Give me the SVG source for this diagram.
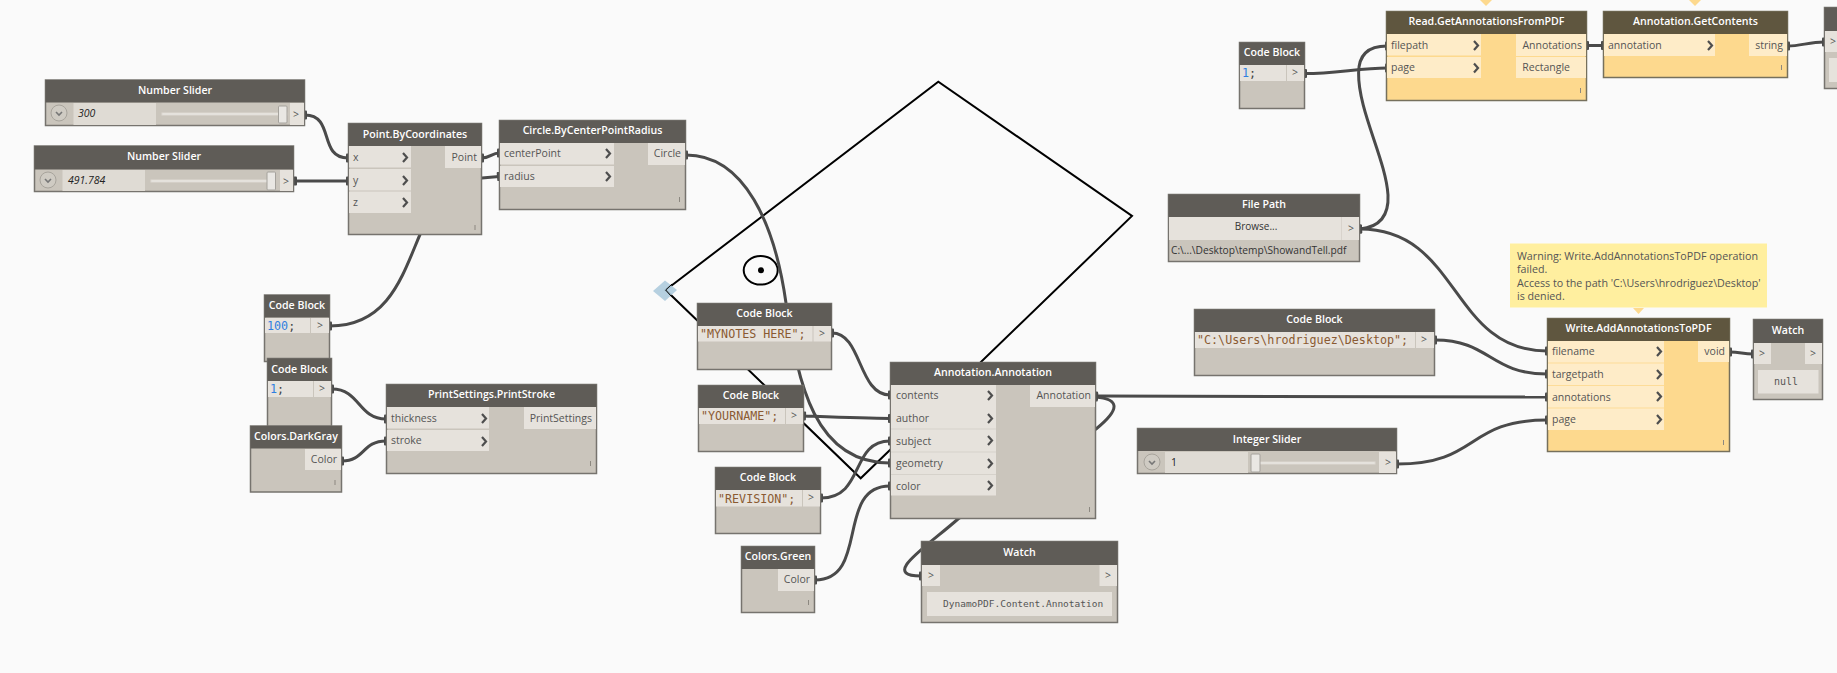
<svg xmlns="http://www.w3.org/2000/svg" width="1837" height="673" viewBox="0 0 1837 673">
<style>
text{font-family:"Open Sans","Noto Sans","Liberation Sans",sans-serif;font-size:10.5px;fill:#555}
.b{fill:#cac5bc;stroke:#76736e;stroke-width:1.5}
.h{fill:#5f5c57}
.hw{fill:#5f563f}
.w .b{fill:#fdd98e;stroke:#76705c}
.r{fill:#e6e2dc}
.w .r{fill:#feecc8}
.t{fill:#fff;font-size:10.6px;font-weight:600;text-anchor:middle;transform:translateY(-1px)}
.c{font-family:"DejaVu Sans Mono","Liberation Mono",monospace;font-size:11.7px;fill:#8a5a32}
.n{fill:#2f7fe0}
.a{fill:none;stroke:#777;stroke-width:1.6}
.ch{fill:none;stroke:#4e4e4e;stroke-width:2.2}
.grip{fill:#8c8880}
.wire{fill:none;stroke:#4a4a4a;stroke-width:3;marker-start:url(#nub);marker-end:url(#nub)}
.geo{fill:none;stroke:#000;stroke-width:2}
.val{fill:#dfdbd4}
.track{fill:#eceae6;stroke:#ddd9d2}
.thumb{fill:#e9e7e3;stroke:#a5a29c}
.btn{fill:#cfcbc3;stroke:#a8a49c}
.tip{fill:#fdd98e}
.i{font-style:italic;fill:#222;font-size:10.5px}
.rt{text-anchor:end}
.warn{fill:#555;font-size:10.7px}
</style>
<defs>
<marker id="nub" markerUnits="userSpaceOnUse" markerWidth="6" markerHeight="10" refX="3" refY="5" orient="auto-start-reverse"><rect x="1" y="0.500" width="4" height="9" rx="1" fill="#4a4a4a"/></marker>
</defs>
<rect width="1837" height="673" fill="#fafafa"/>
<g id="geometry">
<path class="geo" d="M665.7,290L938.3,81.7L1132,216L860.7,478.3Z"/>
<ellipse class="geo" cx="760.7" cy="270.3" rx="17" ry="14.3"/>
<circle cx="761" cy="270.3" r="3" fill="#000"/>
<path d="M665,280.5L677,290L665,301L653,291Z" fill="#aecbdd" opacity="0.9"/>
<path class="geo" style="stroke-width:1" d="M672,284L665.7,290L671,296"/>
</g>
<g id="connectors">
<path class="wire" d="M305,115C335,115 318,158 348,158"/>
<path class="wire" d="M295,181C310,181 330,181 348,181"/>
<path class="wire" d="M482,158C490,158 492,153 499,153"/>
<path class="wire" d="M330,326C430,326 400,178 482,178L499,176.500"/>
<path class="wire" d="M686,155C745,155 775,225 786,303C798,385 815,463 890,463"/>
<path class="wire" d="M832,333C862,333 858,395 890,395"/>
<path class="wire" d="M804,416C830,417 865,418.500 890,418.500"/>
<path class="wire" d="M821,498C865,498 850,441 890,441"/>
<path class="wire" d="M815,580C870,580 835,486 890,486"/>
<path class="wire" d="M1096,396C1250,397 1400,397 1547,397"/>
<path class="wire" d="M1096,397C1118,399 1122,408 1096,429L958,519C925,548 880,576 921,576"/>
<path class="wire" d="M1435,340C1490,340 1490,374 1547,374"/>
<path class="wire" d="M1360,229C1460,229 1450,351 1547,351"/>
<path class="wire" d="M1360,229C1380,227 1389,215 1388,195C1386,160 1358,110 1358.600,73C1358.600,55 1368,46 1387,46"/>
<path class="wire" d="M1305,73.500C1335,73.500 1360,68 1387,68"/>
<path class="wire" d="M1587,45.500L1603,45.500"/>
<path class="wire" d="M1788,46C1800,46 1810,42 1824,42"/>
<path class="wire" d="M1397,464C1480,464 1465,420 1547,420"/>
<path class="wire" d="M1730,352C1740,352 1743,354 1753,354"/>
<path class="wire" d="M332,389C360,389 358,419 386,419"/>
<path class="wire" d="M342,461C365,461 362,441 386,441"/>
</g>

<g id="slider1">
<rect class="b" x="45.500" y="80" width="259" height="45.500"/><rect class="h" x="45.500" y="80" width="259" height="22.500"/>
<text class="t" x="175" y="95">Number Slider</text>
<circle class="btn" cx="59" cy="113" r="8"/><path class="a" d="M56,112L59,115L62,112"/>
<rect class="val" x="73.500" y="103" width="82.500" height="22"/><text class="i" x="78" y="117">300</text>
<rect class="track" x="162" y="113" width="125" height="2"/><rect class="thumb" x="278.500" y="106" width="8.500" height="17" rx="1"/>
<rect class="r" x="290" y="103" width="14" height="22"/><text x="293" y="118">&gt;</text>
</g>
<g id="slider2">
<rect class="b" x="34.500" y="146" width="259" height="45.500"/><rect class="h" x="34.500" y="146" width="259" height="23.500"/>
<text class="t" x="164" y="161">Number Slider</text>
<circle class="btn" cx="48" cy="180" r="8"/><path class="a" d="M45,179L48,182L51,179"/>
<rect class="val" x="62.500" y="170" width="82.500" height="21"/><text class="i" x="68" y="184">491.784</text>
<rect class="track" x="151" y="180" width="124" height="2"/><rect class="thumb" x="267" y="172" width="8.500" height="18" rx="1"/>
<rect class="r" x="280" y="170" width="13" height="21"/><text x="283" y="185">&gt;</text>
</g>
<g id="point">
<rect class="b" x="348.500" y="123.500" width="133" height="111"/><rect class="h" x="348.500" y="123.500" width="133" height="22.500"/>
<text class="t" x="415" y="138.500">Point.ByCoordinates</text>
<rect class="r" x="349" y="146" width="62" height="21.500"/><rect class="r" x="349" y="169" width="62" height="21.500"/><rect class="r" x="349" y="191.500" width="62" height="21.500"/>
<text x="353" y="161">x</text><text x="353" y="184">y</text><text x="353" y="206">z</text>
<path class="ch" d="M403,153L407,157.500L403,162M403,176L407,180.500L403,185M403,198L407,202.500L403,207"/>
<rect class="r" x="445" y="146" width="36" height="22"/><text class="rt" x="477" y="161">Point</text>
<rect class="grip" x="474.500" y="225" width="1" height="5"/>
</g>
<g id="circle">
<rect class="b" x="499.500" y="120.500" width="186" height="89"/><rect class="h" x="499.500" y="120.500" width="186" height="22.500"/>
<text class="t" x="592.500" y="135">Circle.ByCenterPointRadius</text>
<rect class="r" x="500" y="143" width="114" height="21.500"/><rect class="r" x="500" y="166" width="114" height="21"/>
<text x="504" y="157">centerPoint</text><text x="504" y="180">radius</text>
<path class="ch" d="M606,149L610,153.500L606,158M606,172L610,176.500L606,181"/>
<rect class="r" x="648" y="143" width="37" height="22"/><text class="rt" x="681" y="157">Circle</text>
<rect class="grip" x="679" y="197" width="1" height="5"/>
</g>
<g id="cb100">
<rect class="b" x="264.500" y="295" width="65" height="66.500"/><rect class="h" x="264.500" y="295" width="65" height="22.500"/>
<text class="t" x="297" y="310">Code Block</text>
<rect class="r" x="265" y="318" width="45" height="15"/><rect class="r" x="311" y="318" width="18" height="15"/>
<text class="c n" x="267" y="330">100<tspan fill="#444">;</tspan></text><text x="317" y="329">&gt;</text>
</g>
<g id="cb1">
<rect class="b" x="267.500" y="358.500" width="64" height="68"/><rect class="h" x="267.500" y="358.500" width="64" height="22.500"/>
<text class="t" x="299.500" y="373.500">Code Block</text>
<rect class="r" x="268" y="381" width="45" height="16"/><rect class="r" x="314" y="381" width="17" height="16"/>
<text class="c n" x="270" y="393">1<tspan fill="#444">;</tspan></text><text x="319" y="392">&gt;</text>
</g>
<g id="darkgray">
<rect class="b" x="250.500" y="426" width="91" height="66"/><rect class="h" x="250.500" y="426" width="91" height="22.500"/>
<text class="t" x="296" y="440.500">Colors.DarkGray</text>
<rect class="r" x="305" y="449" width="36" height="21"/><text class="rt" x="337" y="463">Color</text>
<rect class="grip" x="334.500" y="480" width="1" height="5"/>
</g>
<g id="printstroke">
<rect class="b" x="386.500" y="384.500" width="210" height="89"/><rect class="h" x="386.500" y="384.500" width="210" height="22.500"/>
<text class="t" x="491.500" y="399">PrintSettings.PrintStroke</text>
<rect class="r" x="387" y="407" width="102" height="21.500"/><rect class="r" x="387" y="430" width="102" height="21"/>
<text x="391" y="422">thickness</text><text x="391" y="444">stroke</text>
<path class="ch" d="M482,414L486,418.500L482,423M482,437L486,441.500L482,446"/>
<rect class="r" x="524" y="407" width="72" height="22"/><text class="rt" x="592" y="422">PrintSettings</text>
<rect class="grip" x="590" y="461" width="1" height="5"/>
</g>
<g id="cbnotes">
<rect class="b" x="697.500" y="303.500" width="134" height="66"/><rect class="h" x="697.500" y="303.500" width="134" height="22.500"/>
<text class="t" x="764.500" y="318">Code Block</text>
<rect class="r" x="698" y="326" width="114.500" height="15.500"/><rect class="r" x="813.500" y="326" width="17.500" height="15.500"/>
<text class="c" x="700" y="338">"MYNOTES HERE";</text><text x="819" y="337">&gt;</text>
</g>
<g id="cbname">
<rect class="b" x="698.500" y="385.500" width="105" height="66"/><rect class="h" x="698.500" y="385.500" width="105" height="22.500"/>
<text class="t" x="751" y="400">Code Block</text>
<rect class="r" x="699" y="408" width="86" height="16"/><rect class="r" x="786" y="408" width="17" height="16"/>
<text class="c" x="701" y="420">"YOURNAME";</text><text x="791" y="419">&gt;</text>
</g>
<g id="cbrev">
<rect class="b" x="715.500" y="467.500" width="105" height="66"/><rect class="h" x="715.500" y="467.500" width="105" height="22.500"/>
<text class="t" x="768" y="482">Code Block</text>
<rect class="r" x="716" y="490" width="86" height="16.500"/><rect class="r" x="803" y="490" width="17" height="16.500"/>
<text class="c" x="718" y="503">"REVISION";</text><text x="808" y="501">&gt;</text>
</g>
<g id="green">
<rect class="b" x="741.500" y="546.500" width="73" height="66"/><rect class="h" x="741.500" y="546.500" width="73" height="22.500"/>
<text class="t" x="778" y="561">Colors.Green</text>
<rect class="r" x="778" y="569" width="36" height="22"/><text class="rt" x="810" y="583">Color</text>
<rect class="grip" x="808" y="600" width="1" height="5"/>
</g>
<g id="annotation">
<rect class="b" x="890.500" y="362.500" width="205" height="156"/><rect class="h" x="890.500" y="362.500" width="205" height="22.500"/>
<text class="t" x="993" y="377">Annotation.Annotation</text>
<rect class="r" x="891" y="385" width="105" height="110.500"/>
<path d="M891,429H996M891,452H996M891,474.500H996" stroke="#d6d2cb" stroke-width="1"/>
<text x="896" y="399">contents</text><text x="896" y="422">author</text><text x="896" y="444.500">subject</text><text x="896" y="467">geometry</text><text x="896" y="489.500">color</text>
<path class="ch" d="M988,391L992,395.500L988,400M988,414L992,418.500L988,423M988,436L992,440.500L988,445M988,459L992,463.500L988,468M988,481L992,485.500L988,490"/>
<rect class="r" x="1030" y="385" width="65" height="22"/><text class="rt" x="1091" y="399">Annotation</text>
<rect class="grip" x="1089" y="507" width="1" height="5"/>
</g>
<g id="watch1">
<rect class="b" x="921.500" y="541.500" width="196" height="81"/><rect class="h" x="921.500" y="541.500" width="196" height="23.500"/>
<text class="t" x="1019.500" y="557">Watch</text>
<rect class="r" x="922" y="565" width="18" height="21"/><rect class="r" x="1099.500" y="565" width="17.500" height="21"/>
<text x="928" y="579">&gt;</text><text x="1105" y="579">&gt;</text>
<rect class="r" x="927" y="592" width="185" height="24"/>
<text class="c" style="font-size:9.5px;fill:#555" x="943" y="607">DynamoPDF.Content.Annotation</text>
</g>
<g id="intslider">
<rect class="b" x="1137.500" y="428.500" width="259" height="45"/><rect class="h" x="1137.500" y="428.500" width="259" height="22.500"/>
<text class="t" x="1267" y="443.500">Integer Slider</text>
<circle class="btn" cx="1152" cy="462" r="8"/><path class="a" d="M1149,461L1152,464L1155,461"/>
<rect class="val" x="1165" y="452" width="83" height="21"/><text class="i" style="font-style:normal" x="1171" y="466">1</text>
<rect class="track" x="1256" y="462" width="119" height="2"/><rect class="thumb" x="1251" y="454" width="9" height="18" rx="1"/>
<rect class="r" x="1379" y="452" width="17" height="21"/><text x="1385" y="466">&gt;</text>
</g>
<g id="read" class="w">
<path class="tip" d="M1480,0H1492L1486,6Z"/>
<rect class="b" x="1386.500" y="11.500" width="200" height="89"/><rect class="hw" x="1386.500" y="11.500" width="200" height="22.500"/>
<text class="t" x="1486.500" y="26">Read.GetAnnotationsFromPDF</text>
<rect class="r" x="1387" y="34" width="94" height="21.500"/><rect class="r" x="1387" y="57" width="94" height="21"/>
<text x="1391" y="49">filepath</text><text x="1391" y="71">page</text>
<path class="ch" d="M1474,41L1478,45.500L1474,50M1474,63.500L1478,68L1474,72.500"/>
<rect class="r" x="1516" y="34" width="70" height="22"/><rect class="r" x="1516" y="57" width="70" height="21"/>
<text class="rt" x="1582" y="49">Annotations</text><text class="rt" x="1570" y="71">Rectangle</text>
<rect class="grip" x="1580" y="88" width="1" height="5"/>
</g>
<g id="getcontents" class="w">
<path class="tip" d="M1689,0H1701L1695,6Z"/>
<rect class="b" x="1603.500" y="11.500" width="184" height="66"/><rect class="hw" x="1603.500" y="11.500" width="184" height="22.500"/>
<text class="t" x="1695.500" y="26">Annotation.GetContents</text>
<rect class="r" x="1604" y="34" width="111" height="22"/>
<text x="1608" y="49">annotation</text>
<path class="ch" d="M1708,41L1712,45.500L1708,50"/>
<rect class="r" x="1749" y="34" width="38" height="22"/><text class="rt" x="1783" y="49">string</text>
<rect class="grip" x="1781" y="65" width="1" height="5"/>
</g>
<g id="watch3">
<rect class="b" x="1824.500" y="7.500" width="30" height="81"/><rect class="h" x="1824.500" y="7.500" width="30" height="23.500"/>
<rect class="r" x="1825" y="31" width="14" height="21"/><text x="1830" y="45">&gt;</text>
<rect class="r" x="1829" y="58" width="12" height="24"/>
</g>
<g id="cbtop">
<rect class="b" x="1239.500" y="42.500" width="65" height="66"/><rect class="h" x="1239.500" y="42.500" width="65" height="22.500"/>
<text class="t" x="1272" y="57">Code Block</text>
<rect class="r" x="1240" y="65" width="46" height="16"/><rect class="r" x="1287" y="65" width="17" height="16"/>
<text class="c n" x="1242" y="77">1<tspan fill="#444">;</tspan></text><text x="1292" y="76">&gt;</text>
</g>
<g id="filepath">
<rect class="b" x="1168.500" y="194.500" width="191" height="67"/><rect class="h" x="1168.500" y="194.500" width="191" height="22.500"/>
<text class="t" x="1264" y="209">File Path</text>
<rect class="r" x="1169" y="217" width="172.500" height="23"/><rect class="r" x="1342" y="217" width="17" height="23"/>
<text x="1256" y="230" style="text-anchor:middle;fill:#333;font-size:10px">Browse...</text><text x="1348" y="232">&gt;</text>
<text x="1171" y="254" style="fill:#333;font-size:10.200px">C:\...\Desktop\temp\ShowandTell.pdf</text>
</g>
<g id="cbpath">
<rect class="b" x="1194.500" y="309.500" width="240" height="66"/><rect class="h" x="1194.500" y="309.500" width="240" height="22.500"/>
<text class="t" x="1314.500" y="324">Code Block</text>
<rect class="r" x="1195" y="332" width="220" height="16"/><rect class="r" x="1416" y="332" width="18" height="16"/>
<text class="c" x="1197" y="344">"C:\Users\hrodriguez\Desktop";</text><text x="1421" y="343">&gt;</text>
</g>
<g id="warning">
<rect x="1510" y="243.500" width="257" height="64" fill="#ffef9f"/>
<path d="M1633,308H1644L1638.500,314Z" fill="#fdd98e"/>
<text class="warn" x="1517" y="259.500">Warning: Write.AddAnnotationsToPDF operation</text>
<text class="warn" x="1517" y="272.500">failed.</text>
<text class="warn" x="1517" y="286.500">Access to the path 'C:\Users\hrodriguez\Desktop'</text>
<text class="warn" x="1517" y="299.500">is denied.</text>
</g>
<g id="write" class="w">
<rect class="b" x="1547.500" y="318.500" width="182" height="133"/><rect class="hw" x="1547.500" y="318.500" width="182" height="22.500"/>
<text class="t" x="1638.500" y="333">Write.AddAnnotationsToPDF</text>
<rect class="r" x="1548" y="341" width="116" height="89"/>
<path d="M1548,363H1664M1548,385.500H1664M1548,408H1664" stroke="#fddc98" stroke-width="1"/>
<text x="1552" y="355">filename</text><text x="1552" y="378">targetpath</text><text x="1552" y="400.500">annotations</text><text x="1552" y="423">page</text>
<path class="ch" d="M1657,347L1661,351.500L1657,356M1657,370L1661,374.500L1657,379M1657,392L1661,396.500L1657,401M1657,415L1661,419.500L1657,424"/>
<rect class="r" x="1698" y="341" width="31" height="21"/><text class="rt" x="1725" y="355">void</text>
<rect class="grip" x="1723" y="440" width="1" height="5"/>
</g>
<g id="watch2">
<rect class="b" x="1753.500" y="319.500" width="69" height="80"/><rect class="h" x="1753.500" y="319.500" width="69" height="23.500"/>
<text class="t" x="1788" y="335">Watch</text>
<rect class="r" x="1754" y="343" width="17" height="21"/><rect class="r" x="1805" y="343" width="17" height="21"/>
<text x="1759" y="357">&gt;</text><text x="1810" y="357">&gt;</text>
<rect class="r" x="1758" y="370" width="60.500" height="23.500"/>
<text class="c" style="font-size:10px;fill:#555;text-anchor:middle" x="1786" y="385">null</text>
</g>
</svg>
